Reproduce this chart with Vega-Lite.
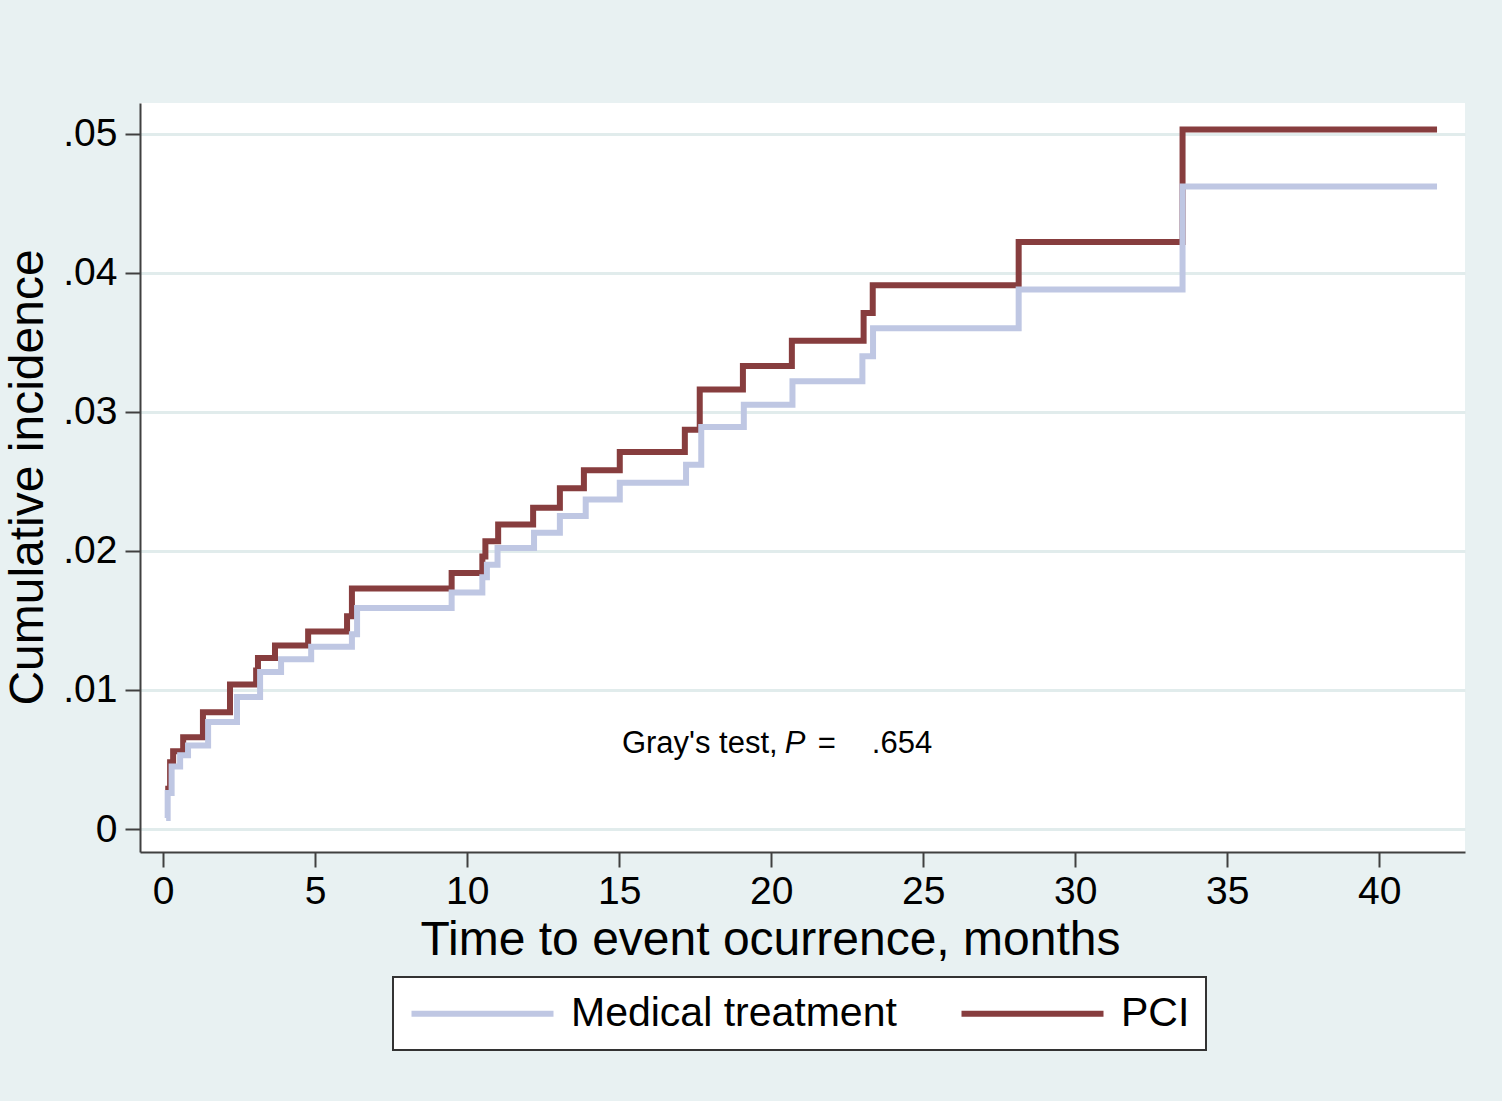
{
  "$schema": "https://vega.github.io/schema/vega-lite/v6.json",
  "width": 1325,
  "height": 749,
  "autosize": {"type": "none"},
  "padding": {"left": 140, "top": 103, "right": 37, "bottom": 249},
  "background": "#e8f1f2",
  "config": {
    "view": {"stroke": null, "fill": "white"},
    "font": "Liberation Sans",
    "legend": {"strokeWidth": 2}
  },
  "datasets": {
    "curves": [
      {"time": 0.07, "inc": 0.0029, "group": "PCI"},
      {"time": 0.23, "inc": 0.0048, "group": "PCI"},
      {"time": 0.33, "inc": 0.0056, "group": "PCI"},
      {"time": 0.66, "inc": 0.0066, "group": "PCI"},
      {"time": 1.31, "inc": 0.0084, "group": "PCI"},
      {"time": 2.20, "inc": 0.0104, "group": "PCI"},
      {"time": 3.06, "inc": 0.0114, "group": "PCI"},
      {"time": 3.12, "inc": 0.0123, "group": "PCI"},
      {"time": 3.68, "inc": 0.0132, "group": "PCI"},
      {"time": 4.77, "inc": 0.0142, "group": "PCI"},
      {"time": 6.05, "inc": 0.0153, "group": "PCI"},
      {"time": 6.21, "inc": 0.0173, "group": "PCI"},
      {"time": 9.49, "inc": 0.0184, "group": "PCI"},
      {"time": 10.50, "inc": 0.0196, "group": "PCI"},
      {"time": 10.60, "inc": 0.0207, "group": "PCI"},
      {"time": 11.02, "inc": 0.0219, "group": "PCI"},
      {"time": 12.17, "inc": 0.0231, "group": "PCI"},
      {"time": 13.05, "inc": 0.0245, "group": "PCI"},
      {"time": 13.84, "inc": 0.0258, "group": "PCI"},
      {"time": 15.02, "inc": 0.0271, "group": "PCI"},
      {"time": 17.16, "inc": 0.0287, "group": "PCI"},
      {"time": 17.65, "inc": 0.0316, "group": "PCI"},
      {"time": 19.07, "inc": 0.0333, "group": "PCI"},
      {"time": 20.68, "inc": 0.0351, "group": "PCI"},
      {"time": 23.04, "inc": 0.0371, "group": "PCI"},
      {"time": 23.34, "inc": 0.0391, "group": "PCI"},
      {"time": 28.14, "inc": 0.0422, "group": "PCI"},
      {"time": 33.53, "inc": 0.0503, "group": "PCI"},
      {"time": 41.90, "inc": 0.0503, "group": "PCI"},
      {"time": 0.10, "inc": 0.0008, "group": "Medical treatment"},
      {"time": 0.15, "inc": 0.0026, "group": "Medical treatment"},
      {"time": 0.28, "inc": 0.0045, "group": "Medical treatment"},
      {"time": 0.56, "inc": 0.0053, "group": "Medical treatment"},
      {"time": 0.82, "inc": 0.0060, "group": "Medical treatment"},
      {"time": 1.48, "inc": 0.0077, "group": "Medical treatment"},
      {"time": 2.43, "inc": 0.0095, "group": "Medical treatment"},
      {"time": 3.19, "inc": 0.0113, "group": "Medical treatment"},
      {"time": 3.88, "inc": 0.0122, "group": "Medical treatment"},
      {"time": 4.87, "inc": 0.0131, "group": "Medical treatment"},
      {"time": 6.21, "inc": 0.0140, "group": "Medical treatment"},
      {"time": 6.38, "inc": 0.0159, "group": "Medical treatment"},
      {"time": 9.49, "inc": 0.0170, "group": "Medical treatment"},
      {"time": 10.50, "inc": 0.0181, "group": "Medical treatment"},
      {"time": 10.65, "inc": 0.0190, "group": "Medical treatment"},
      {"time": 11.00, "inc": 0.0202, "group": "Medical treatment"},
      {"time": 12.20, "inc": 0.0213, "group": "Medical treatment"},
      {"time": 13.05, "inc": 0.0225, "group": "Medical treatment"},
      {"time": 13.90, "inc": 0.0237, "group": "Medical treatment"},
      {"time": 15.02, "inc": 0.0249, "group": "Medical treatment"},
      {"time": 17.20, "inc": 0.0262, "group": "Medical treatment"},
      {"time": 17.70, "inc": 0.0289, "group": "Medical treatment"},
      {"time": 19.10, "inc": 0.0305, "group": "Medical treatment"},
      {"time": 20.70, "inc": 0.0322, "group": "Medical treatment"},
      {"time": 23.00, "inc": 0.0340, "group": "Medical treatment"},
      {"time": 23.35, "inc": 0.0360, "group": "Medical treatment"},
      {"time": 28.14, "inc": 0.0388, "group": "Medical treatment"},
      {"time": 33.53, "inc": 0.0462, "group": "Medical treatment"},
      {"time": 41.90, "inc": 0.0462, "group": "Medical treatment"}
    ],
    "note": [
      {"part": "Gray's test,", "time": 15.09, "inc": 0.0055},
      {"part": "=", "time": 21.53, "inc": 0.0055},
      {"part": ".654", "time": 23.31, "inc": 0.0055}
    ],
    "noteP": [
      {"part": "P", "time": 20.45, "inc": 0.0055}
    ]
  },
  "encoding": {
    "x": {
      "field": "time",
      "type": "quantitative",
      "scale": {"domain": [-0.76, 42.82], "nice": false, "zero": false},
      "axis": {
        "title": "Time to event ocurrence, months",
        "values": [0, 5, 10, 15, 20, 25, 30, 35, 40],
        "format": "d",
        "grid": false,
        "domainColor": "#404040",
        "domainWidth": 2,
        "tickColor": "#404040",
        "tickWidth": 2,
        "tickSize": 15,
        "labelFontSize": 39,
        "labelColor": "black",
        "labelPadding": 5,
        "labelFlush": false,
        "titleFontSize": 48,
        "titleFontWeight": "normal",
        "titleColor": "black",
        "titleX": 630,
        "titleY": 102,
        "titleAlign": "center",
        "titleBaseline": "alphabetic"
      }
    },
    "y": {
      "field": "inc",
      "type": "quantitative",
      "scale": {"domain": [-0.00165, 0.0522], "nice": false, "zero": false},
      "axis": {
        "title": "Cumulative incidence",
        "values": [0, 0.01, 0.02, 0.03, 0.04, 0.05],
        "labelExpr": "datum.value == 0 ? '0' : replace(format(datum.value, '.2f'), '0.', '.')",
        "grid": true,
        "gridColor": "#e1ecec",
        "gridWidth": 3,
        "domainColor": "#404040",
        "domainWidth": 2,
        "tickColor": "#404040",
        "tickWidth": 2,
        "tickSize": 15,
        "labelFontSize": 39,
        "labelColor": "black",
        "labelPadding": 8,
        "labelFlush": false,
        "titleFontSize": 48,
        "titleFontWeight": "normal",
        "titleColor": "black",
        "titleAngle": 270,
        "titleX": -112,
        "titleY": 374,
        "titleAlign": "center",
        "titleBaseline": "middle"
      }
    }
  },
  "layer": [
    {
      "data": {"name": "curves"},
      "transform": [{"filter": "datum.group == 'PCI'"}],
      "mark": {"type": "line", "interpolate": "step-after", "strokeWidth": 6, "strokeJoin": "miter", "strokeCap": "butt"},
      "encoding": {
        "color": {
          "field": "group",
          "type": "nominal",
          "scale": {"domain": ["Medical treatment", "PCI"], "range": ["#bfc7e3", "#873d3e"]},
          "legend": {
            "orient": "none",
            "legendX": 253,
            "legendY": 874,
            "direction": "horizontal",
            "title": null,
            "symbolType": "M-1.8,0L12.4,0",
            "symbolSize": 400,
            "symbolStrokeWidth": 6,
            "labelFontSize": 41,
            "labelColor": "black",
            "labelOffset": 121,
            "labelLimit": 0,
            "columnPadding": 52,
            "padding": 16,
            "fillColor": "white",
            "strokeColor": "#333333"
          }
        }
      }
    },
    {
      "data": {"name": "curves"},
      "transform": [{"filter": "datum.group == 'Medical treatment'"}],
      "mark": {"type": "line", "interpolate": "step-after", "strokeWidth": 6, "strokeJoin": "miter", "strokeCap": "butt"},
      "encoding": {
        "color": {"field": "group", "type": "nominal"}
      }
    },
    {
      "data": {"name": "note"},
      "mark": {"type": "text", "align": "left", "baseline": "alphabetic", "fontSize": 31, "color": "black"},
      "encoding": {"text": {"field": "part"}}
    },
    {
      "data": {"name": "noteP"},
      "mark": {"type": "text", "align": "left", "baseline": "alphabetic", "fontSize": 31, "fontStyle": "italic", "color": "black"},
      "encoding": {"text": {"field": "part"}}
    }
  ]
}
